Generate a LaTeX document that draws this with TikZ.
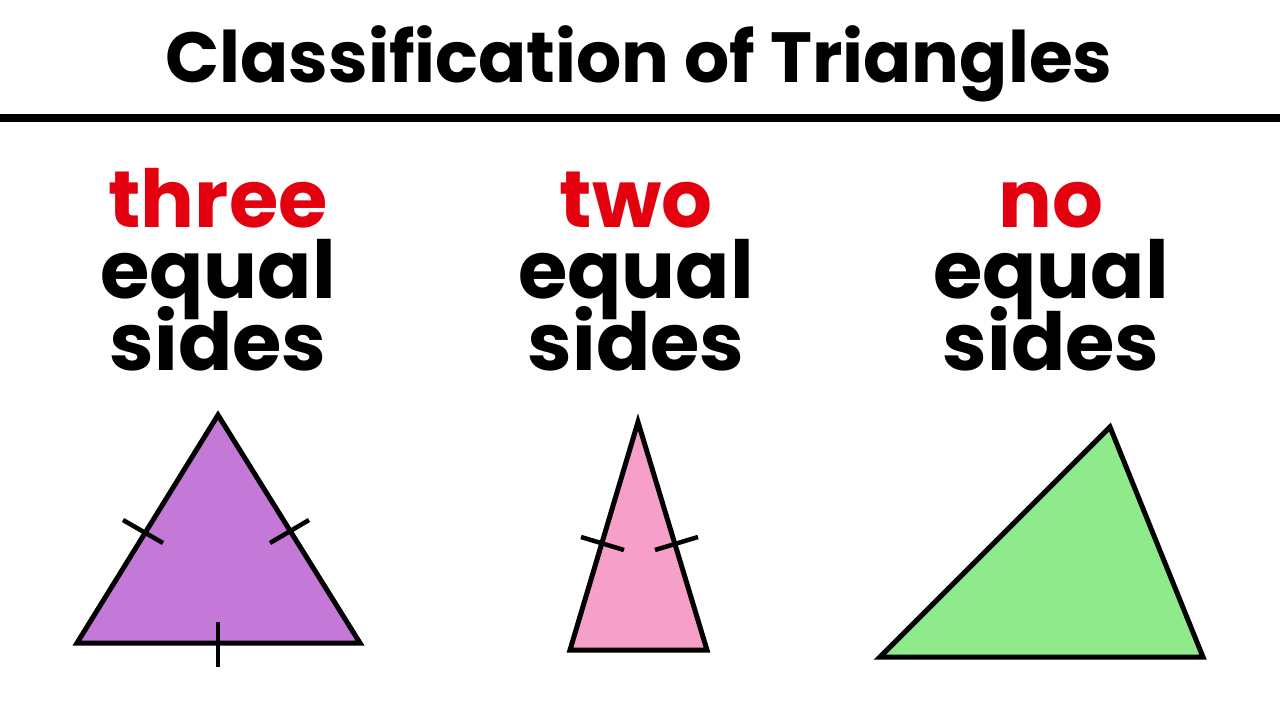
\documentclass[tikz,border=0pt]{standalone}
\usepackage{fontspec}
\setmainfont{Poppins}
\definecolor{redtxt}{HTML}{E3000F}
\definecolor{purp}{HTML}{C479D9}
\definecolor{pinkf}{HTML}{F59FC9}
\definecolor{greenf}{HTML}{8EEA8A}
\begin{document}
\begin{tikzpicture}[x=1pt,y=-1pt,
  lbl/.style={anchor=base,inner sep=0pt,font=\fontsize{80}{80}\selectfont\bfseries},
  tri/.style={draw=black,line width=5pt,line join=miter},
  tick/.style={draw=black,line width=4.5pt}]
\useasboundingbox (0,0) rectangle (1280,720);
\fill[white] (0,0) rectangle (1280,720);
% title
\node[anchor=base,inner sep=0pt,font=\fontsize{71}{71}\selectfont\bfseries] (title) at (639,82) {Classification of Triangles};
\coordinate (rl) at (0,118);
\coordinate (rr) at (1280,118);
\draw[line width=8pt] (rl) -- (rr);
% column 1
\node[lbl,text=redtxt] (t1) at (218,227) {three};
\node[lbl] (e1) at (218,298) {equal};
\node[lbl] (s1) at (218,370) {sides};
% column 2
\node[lbl,text=redtxt] (t2) at (636,227) {two};
\node[lbl] (e2) at (636,298) {equal};
\node[lbl] (s2) at (636,370) {sides};
% column 3
\node[lbl,text=redtxt] (t3) at (1051,227) {no};
\node[lbl] (e3) at (1051,298) {equal};
\node[lbl] (s3) at (1051,370) {sides};
% triangle 1
\coordinate (a1) at (218,415);
\coordinate (b1) at (77,643);
\coordinate (c1) at (360,643);
\fill[purp] (a1) -- (b1) -- (c1) -- cycle;
\draw[tri] (a1) -- (b1) -- (c1) -- cycle;
\draw[tick] (123,520) -- (163,543);
\draw[tick] (270,543) -- (309,520);
\draw[tick] (218,622) -- (218,667);
% triangle 2
\coordinate (a2) at (638,422);
\coordinate (b2) at (570,650);
\coordinate (c2) at (707,650);
\fill[pinkf] (a2) -- (b2) -- (c2) -- cycle;
\draw[tri] (a2) -- (b2) -- (c2) -- cycle;
\draw[tick] (581,537) -- (624,550);
\draw[tick] (655,550) -- (698,537);
% triangle 3
\coordinate (a3) at (1110,427);
\coordinate (b3) at (880,657);
\coordinate (c3) at (1203,657);
\fill[greenf] (a3) -- (b3) -- (c3) -- cycle;
\draw[tri] (a3) -- (b3) -- (c3) -- cycle;
\end{tikzpicture}
\end{document}
